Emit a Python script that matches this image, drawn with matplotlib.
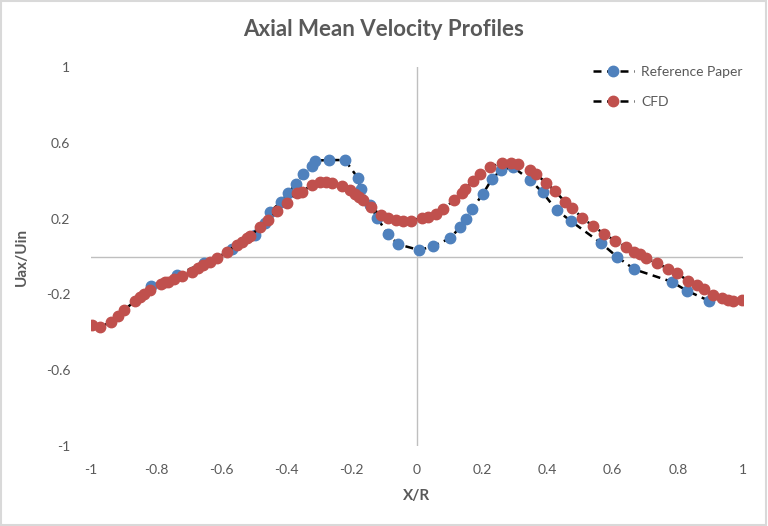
import matplotlib.pyplot as plt
from matplotlib.patches import Rectangle

plt.rcParams['font.family'] = ['Lato', 'DejaVu Sans']

# Reference paper data (X/R, Uax/Uin)
ref_x = [-0.817, -0.737, -0.653, -0.568, -0.497, -0.466, -0.451, -0.417, -0.396, -0.371,
         -0.350, -0.323, -0.313, -0.270, -0.221, -0.182, -0.172, -0.144, -0.122, -0.090,
         -0.057, 0.007, 0.050, 0.101, 0.132, 0.150, 0.168, 0.202, 0.229, 0.259,
         0.295, 0.347, 0.385, 0.428, 0.472, 0.565, 0.613, 0.667, 0.781, 0.827, 0.897]
ref_y = [-0.158, -0.098, -0.032, 0.039, 0.113, 0.178, 0.236, 0.288, 0.335, 0.383,
         0.435, 0.479, 0.506, 0.509, 0.509, 0.416, 0.355, 0.272, 0.205, 0.117,
         0.064, 0.034, 0.055, 0.096, 0.154, 0.196, 0.249, 0.330, 0.407, 0.459,
         0.471, 0.404, 0.338, 0.245, 0.187, 0.070, -0.001, -0.068, -0.133, -0.180, -0.235]

# CFD data
cfd_x = [-0.996, -0.972, -0.939, -0.918, -0.898, -0.865, -0.850, -0.837, -0.819, -0.785,
         -0.773, -0.763, -0.744, -0.722, -0.689, -0.672, -0.656, -0.635, -0.614, -0.584,
         -0.553, -0.538, -0.522, -0.512, -0.482, -0.456, -0.430, -0.400, -0.367, -0.354,
         -0.323, -0.298, -0.278, -0.260, -0.231, -0.207, -0.190, -0.179, -0.167, -0.142,
         -0.112, -0.088, -0.066, -0.044, -0.018, 0.014, 0.035, 0.057, 0.081, 0.113,
         0.137, 0.147, 0.172, 0.193, 0.224, 0.260, 0.287, 0.310, 0.347, 0.365,
         0.396, 0.422, 0.454, 0.475, 0.507, 0.541, 0.575, 0.606, 0.641, 0.666,
         0.684, 0.702, 0.737, 0.769, 0.797, 0.832, 0.859, 0.879, 0.909, 0.935,
         0.954, 0.970, 0.996]
cfd_y = [-0.361, -0.374, -0.344, -0.314, -0.282, -0.235, -0.215, -0.199, -0.177, -0.145,
         -0.136, -0.133, -0.120, -0.103, -0.082, -0.062, -0.045, -0.027, -0.009, 0.025,
         0.061, 0.078, 0.096, 0.108, 0.154, 0.193, 0.240, 0.284, 0.334, 0.342,
         0.376, 0.391, 0.393, 0.389, 0.373, 0.349, 0.332, 0.316, 0.298, 0.260,
         0.221, 0.203, 0.193, 0.189, 0.190, 0.202, 0.211, 0.226, 0.249, 0.298,
         0.335, 0.355, 0.397, 0.435, 0.471, 0.495, 0.493, 0.487, 0.459, 0.435,
         0.389, 0.347, 0.289, 0.256, 0.204, 0.159, 0.119, 0.084, 0.050, 0.025,
         0.012, -0.008, -0.036, -0.064, -0.089, -0.128, -0.150, -0.170, -0.201, -0.219,
         -0.231, -0.235, -0.230]

x_ticks = [-1, -0.8, -0.6, -0.4, -0.2, 0, 0.2, 0.4, 0.6, 0.8, 1]
y_ticks = [-1, -0.6, -0.2, 0.2, 0.6, 1]

grey = '#595959'
dash = (0, (3.2, 2.2))

fig = plt.figure(figsize=(7.68, 5.26), dpi=100)
fig.patches.append(Rectangle((0.001, 0.002), 0.996, 0.996, transform=fig.transFigure,
                             fill=False, edgecolor='#D9D9D9', linewidth=1.5))
ax = fig.add_axes([0.1185, 0.1521, 0.849, 0.7205])

ax.axhline(0, color='#BFBFBF', lw=1, zorder=0)
ax.axvline(0, color='#BFBFBF', lw=1, zorder=0)

ax.plot(ref_x, ref_y, color='black', ls=dash, lw=1.8, marker='o', ms=7.5,
        mfc='#4F81BD', mec='#4F81BD', label='Reference Paper')
ax.plot(cfd_x, cfd_y, color='black', ls=dash, lw=1.8, marker='o', ms=7.5,
        mfc='#C0504D', mec='#C0504D', label='CFD')

ax.set_xlim(-1, 1)
ax.set_ylim(-1, 1)
ax.set_xticks(x_ticks)
ax.set_xticklabels([f'{v:g}' for v in x_ticks])
ax.set_yticks(y_ticks)
ax.set_yticklabels([f'{v:g}' for v in y_ticks])
ax.tick_params(length=0, labelsize=10, labelcolor=grey)
ax.tick_params(axis='y', pad=15)
ax.tick_params(axis='x', pad=13)
for s in ax.spines.values():
    s.set_visible(False)

ax.set_xlabel('X/R', fontsize=11, fontweight='bold', color=grey, labelpad=9)
ax.set_ylabel('Uax/Uin', fontsize=11, fontweight='bold', color=grey, labelpad=12)
fig.text(0.5, 0.943, 'Axial Mean Velocity Profiles', ha='center', va='center',
         fontsize=16, fontweight='bold', color=grey)

leg = ax.legend(loc='upper left', bbox_to_anchor=(0.75, 1.035), frameon=False,
                fontsize=10, labelspacing=1.3, handlelength=3.0, handletextpad=0.5)
for t in leg.get_texts():
    t.set_color(grey)

fig.savefig('out.png', dpi=100)
